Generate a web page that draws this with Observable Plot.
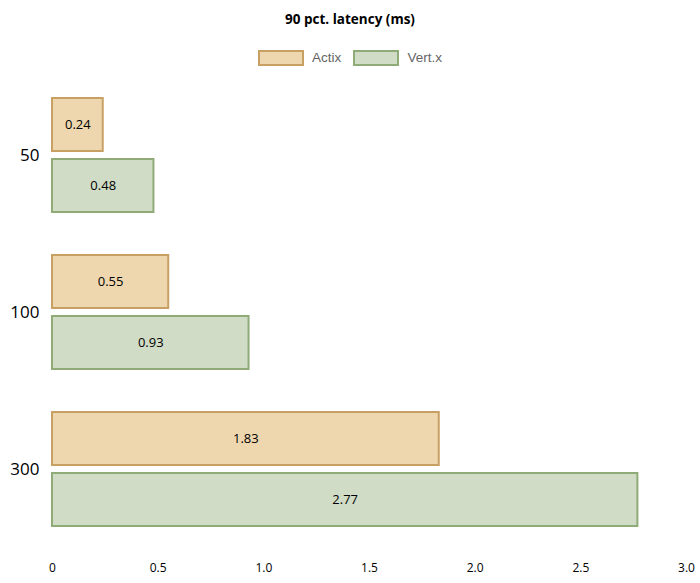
<!DOCTYPE html>
<html>
<head>
<meta charset="utf-8">
<script src="https://cdn.jsdelivr.net/npm/d3@7"></script>
<script src="https://cdn.jsdelivr.net/npm/@observablehq/plot@0.6"></script>
<style>
  html, body { margin: 0; padding: 0; background: #fff; }
  body { width: 700px; font-family: "Open Sans", "Noto Sans", sans-serif; }
  #header { height: 80px; }
  #title { text-align: center; font-weight: bold; font-size: 13.5px; line-height: 18px; padding-top: 10px; color: #000; }
  #legend { text-align: center; font-size: 13.5px; line-height: 18px; margin-top: 21px; color: #666; font-family: "Liberation Sans", Arial, sans-serif; }
  .item { display: inline-flex; align-items: center; margin: 0 6px; }
  .sw { display: inline-block; width: 42px; height: 12px; border: 2px solid; margin-right: 8px; }
  svg { display: block; }
</style>
</head>
<body>
<div id="header">
  <div id="title"></div>
  <div id="legend"></div>
</div>
<div id="chart"></div>
<script>
const titleText = "90 pct. latency (ms)";
const groups = ["50", "100", "300"];
const series = ["Actix", "Vert.x"];
const actixValues = [0.24, 0.55, 1.83];
const vertxValues = [0.48, 0.93, 2.77];
const xTicks = [0, 0.5, 1.0, 1.5, 2.0, 2.5, 3.0];
const xTickLabels = ["0", "0.5", "1.0", "1.5", "2.0", "2.5", "3.0"];
const fills = ["#eed7ae", "#d0dcc6"];
const strokes = ["#c8a064", "#8fab77"];

document.getElementById("title").textContent = titleText;
const legend = document.getElementById("legend");
series.forEach((s, i) => {
  const item = document.createElement("span");
  item.className = "item";
  const sw = document.createElement("span");
  sw.className = "sw";
  sw.style.background = fills[i];
  sw.style.borderColor = strokes[i];
  item.appendChild(sw);
  item.appendChild(document.createTextNode(s));
  legend.appendChild(item);
});

const data = groups.flatMap((g, i) => [
  {group: g, series: "Actix", value: actixValues[i]},
  {group: g, series: "Vert.x", value: vertxValues[i]}
]);

const chart = Plot.plot({
  width: 700,
  height: 503,
  marginTop: 17,
  marginBottom: 56,
  marginLeft: 52,
  marginRight: 14,
  style: {fontFamily: "'Open Sans', 'Noto Sans', sans-serif", fontSize: "12px", color: "#000", background: "#fff"},
  x: {domain: [0, 3], label: null},
  y: {domain: series, paddingInner: 8 / 62, paddingOuter: 0, axis: null},
  fy: {domain: groups, paddingInner: 41 / 157, paddingOuter: 0, label: null},
  marks: [
    ...series.map((s, i) => Plot.barX(data.filter(d => d.series === s), {
      fy: "group", y: "series", x: "value",
      fill: fills[i], stroke: strokes[i], strokeWidth: 2
    })),
    Plot.text(data, {
      fy: "group", y: "series", x: d => d.value / 2,
      text: d => d.value.toFixed(2), fontSize: 13, fill: "#000"
    }),
    Plot.axisX({
      ticks: xTicks, tickFormat: (d) => xTickLabels[xTicks.indexOf(d)],
      tickSize: 0, tickPadding: 36, label: null, fontSize: 12
    }),
    Plot.axisFy({tickSize: 0, tickPadding: 13, fontSize: 17, label: null, anchor: "left"})
  ]
});
document.getElementById("chart").appendChild(chart);
</script>
</body>
</html>
